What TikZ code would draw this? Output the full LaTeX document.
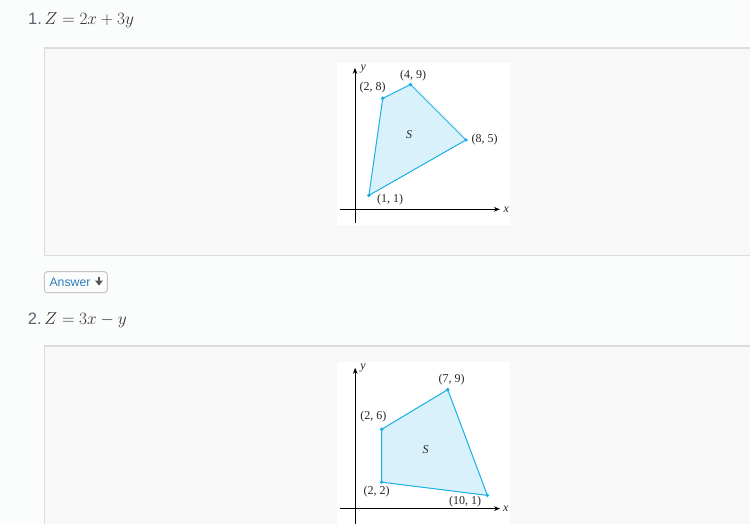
\documentclass[tikz,border=0pt]{standalone}
\usepackage{fontspec}
\usetikzlibrary{arrows.meta}
\newfontfamily\gfont{Liberation Serif}
\newfontfamily\uifont{Liberation Sans}
\definecolor{pagebg}{HTML}{FBFCFC}
\definecolor{panelbg}{HTML}{F8F8F8}
\definecolor{panelrule}{HTML}{DCDCDC}
\definecolor{regionline}{HTML}{1AAFE6}
\definecolor{regionfill}{HTML}{D8F1FA}
\definecolor{numgrey}{HTML}{5A6470}
\definecolor{mathgrey}{HTML}{333333}
\definecolor{btnblue}{HTML}{2F7DBA}
\definecolor{btnrule}{HTML}{C4C4C4}
\definecolor{arrowgrey}{HTML}{555555}
\tikzset{
  panel/.style={fill=panelbg, draw=panelrule, line width=1.2pt},
  plotbg/.style={fill=white, draw=none},
  axis/.style={line width=0.9pt, draw=black, -{Stealth[length=6pt,width=4.6pt]}},
  edge/.style={draw=regionline, line width=1pt},
  region/.style={fill=regionfill, draw=regionline, line width=1pt, line join=round},
  vdot/.style={circle, fill=regionline, inner sep=0pt, minimum size=3.8pt},
  ptlabel/.style={font=\gfont\fontsize{12}{14}\selectfont, inner sep=0pt, text=black!85},
  axlabel/.style={font=\gfont\itshape\fontsize{12}{14}\selectfont, inner sep=0pt, text=black!85},
  title/.style={anchor=west, inner sep=0pt, text=mathgrey, font=\fontsize{16.5}{20}\selectfont},
  btn/.style={draw=btnrule, fill=pagebg, rounded corners=3pt, line width=1pt}
}
\begin{document}
\begin{tikzpicture}[x=1pt,y=-1pt]
\useasboundingbox (0,0) rectangle (750,523);
\clip (0,0) rectangle (750,523);
\fill[pagebg] (0,0) rectangle (750,523);

% ---------- problem 1 ----------
\node[title] (t1) at (28,20) {{\uifont\color{numgrey}1.}\,$Z=2x+3y$};
\path[panel] (44.3,48) rectangle (760,255.3);
\path[plotbg] (337,63) rectangle (510,225);

\begin{scope}[shift={(355,209.3)}, x=13.87pt, y=13.87pt]
  \coordinate (o1) at (0,0);
  \coordinate (xa1s) at (-1.08,0);
  \coordinate (xa1e) at (10.45,0);
  \coordinate (ya1s) at (0,-1.0);
  \coordinate (ya1e) at (0,10.2);
  \draw[axis] (xa1s) -- (xa1e);
  \draw[axis] (ya1s) -- (ya1e);
  \coordinate (a11) at (1,1);
  \coordinate (a28) at (2,8);
  \coordinate (a49) at (4,9);
  \coordinate (a85) at (8,5);
  \path[region] (a11) -- (a28) -- (a49) -- (a85) -- cycle;
  \node[vdot] (d11) at (a11) {};
  \node[vdot] (d28) at (a28) {};
  \node[vdot] (d49) at (a49) {};
  \node[vdot] (d85) at (a85) {};
  \node[axlabel] (xl1) at (10.9,-0.02) {x};
  \node[axlabel] (yl1) at (0.6,10.1) {y};
\end{scope}
\node[ptlabel] (l49) at (413,75.7) {(4, 9)};
\node[ptlabel] (l28) at (372.7,87.3) {(2, 8)};
\node[ptlabel, anchor=west] (l85) at (471.5,139.5) {(8, 5)};
\node[ptlabel] (l11) at (390,199.5) {(1, 1)};
\node[axlabel] (s1) at (409,135) {S};

% answer button
\path[btn] (44.3,271.7) rectangle (107.3,292.7);
\node[anchor=west, inner sep=0pt, text=btnblue, font=\uifont\fontsize{12.3}{14}\selectfont] (ans) at (49.3,282) {Answer};
\fill[arrowgrey] (97.6,276.5) rectangle (100.4,280.8);
\fill[arrowgrey] (95,280.5) -- (103,280.5) -- (99,285.6) -- cycle;

% ---------- problem 2 ----------
\node[title] (t2) at (27.7,320) {{\uifont\color{numgrey}2.}\,$Z=3x-y$};
\path[panel] (44.3,346) rectangle (760,540);
\path[plotbg] (337,362) rectangle (510,530);

\begin{scope}[shift={(355.2,508.6)}, x=13.22pt, y=13.22pt]
  \coordinate (o2) at (0,0);
  \coordinate (xa2s) at (-1.13,0);
  \coordinate (xa2e) at (10.96,0);
  \coordinate (ya2s) at (0,-1.5);
  \coordinate (ya2e) at (0,10.65);
  \draw[axis] (xa2s) -- (xa2e);
  \draw[axis] (ya2s) -- (ya2e);
  \coordinate (b22) at (2,2);
  \coordinate (b26) at (2,6);
  \coordinate (b79) at (7,9);
  \coordinate (b101) at (10,1);
  \path[region] (b22) -- (b26) -- (b79) -- (b101) -- cycle;
  \node[vdot] (e22) at (b22) {};
  \node[vdot] (e26) at (b26) {};
  \node[vdot] (e79) at (b79) {};
  \node[vdot] (e101) at (b101) {};
  \node[axlabel] (xl2) at (11.4,-0.02) {x};
  \node[axlabel] (yl2) at (0.6,10.6) {y};
\end{scope}
\node[ptlabel] (l79) at (451.7,379.3) {(7, 9)};
\node[ptlabel] (l26) at (373.3,416.7) {(2, 6)};
\node[ptlabel] (l22) at (376.7,491.7) {(2, 2)};
\node[ptlabel] (l101) at (465,501.7) {(10, 1)};
\node[axlabel] (s2) at (425.7,449.3) {S};
\end{tikzpicture}
\end{document}
